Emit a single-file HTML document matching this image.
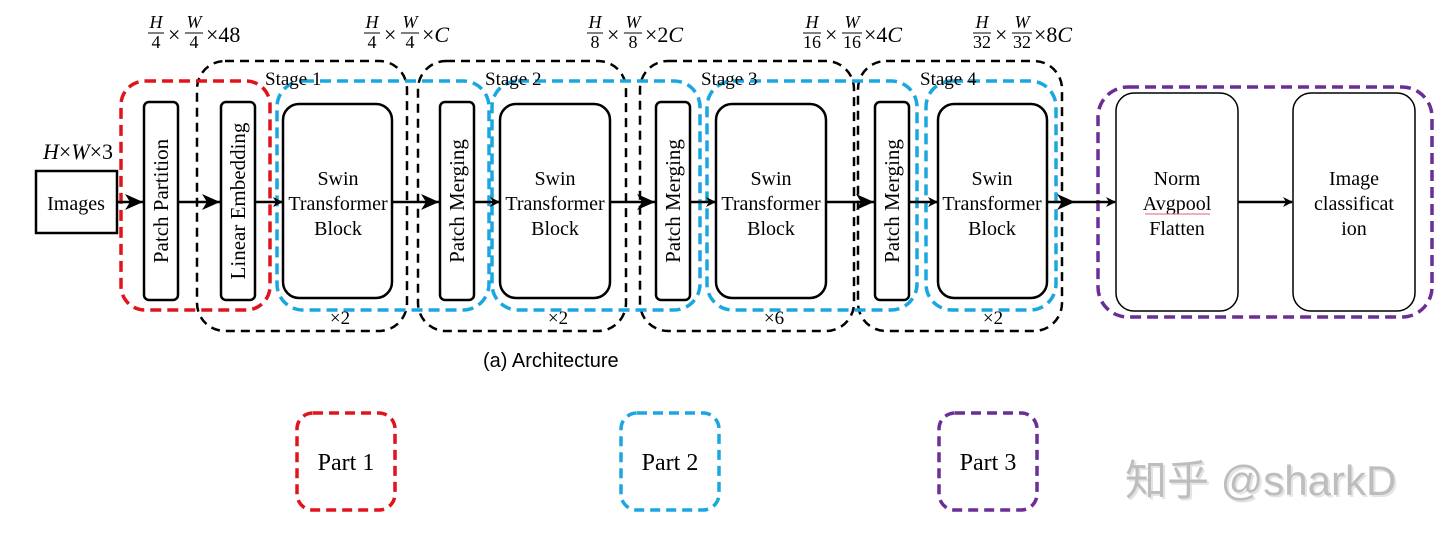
<!DOCTYPE html>
<html><head><meta charset="utf-8"><style>
html,body{margin:0;padding:0;background:#fff;width:1440px;height:537px;overflow:hidden}
svg{display:block}
.s{font-family:"Liberation Serif",serif;fill:#000}
.i{font-style:italic}
</style></head><body>
<svg width="1440" height="537" viewBox="0 0 1440 537" xmlns="http://www.w3.org/2000/svg">
<defs>
<marker id="a" markerWidth="10" markerHeight="10" refX="9" refY="5" orient="auto" markerUnits="userSpaceOnUse"><path d="M0,0 L10,5 L0,10 L3,5 z" fill="#000"/></marker>
<marker id="b" markerWidth="20" markerHeight="16" refX="18" refY="8" orient="auto" markerUnits="userSpaceOnUse"><path d="M0,0 L18,8 L0,16 L5,8 z" fill="#000"/></marker>
</defs>
<g class="s" font-size="18">
<g transform="translate(152,0)"><text x="4" y="28" class="i" text-anchor="middle">H</text><line x1="-4" y1="33" x2="12" y2="33" stroke="#000"/><text x="4" y="48" text-anchor="middle">4</text><text x="16" y="42" font-size="22">×</text><text x="42" y="28" class="i" text-anchor="middle">W</text><line x1="33" y1="33" x2="51" y2="33" stroke="#000"/><text x="42" y="48" text-anchor="middle">4</text><text x="54" y="42" font-size="22">×48</text></g>
<g transform="translate(368,0)"><text x="4" y="28" class="i" text-anchor="middle">H</text><line x1="-4" y1="33" x2="12" y2="33" stroke="#000"/><text x="4" y="48" text-anchor="middle">4</text><text x="16" y="42" font-size="22">×</text><text x="42" y="28" class="i" text-anchor="middle">W</text><line x1="33" y1="33" x2="51" y2="33" stroke="#000"/><text x="42" y="48" text-anchor="middle">4</text><text x="54" y="42" font-size="22">×<tspan class="i">C</tspan></text></g>
<g transform="translate(591,0)"><text x="4" y="28" class="i" text-anchor="middle">H</text><line x1="-4" y1="33" x2="12" y2="33" stroke="#000"/><text x="4" y="48" text-anchor="middle">8</text><text x="16" y="42" font-size="22">×</text><text x="42" y="28" class="i" text-anchor="middle">W</text><line x1="33" y1="33" x2="51" y2="33" stroke="#000"/><text x="42" y="48" text-anchor="middle">8</text><text x="54" y="42" font-size="22">×2<tspan class="i">C</tspan></text></g>
<g transform="translate(806,0)"><text x="6" y="28" class="i" text-anchor="middle">H</text><line x1="-3" y1="33" x2="15" y2="33" stroke="#000"/><text x="6" y="48" text-anchor="middle">16</text><text x="19" y="42" font-size="22">×</text><text x="46" y="28" class="i" text-anchor="middle">W</text><line x1="36" y1="33" x2="56" y2="33" stroke="#000"/><text x="46" y="48" text-anchor="middle">16</text><text x="58" y="42" font-size="22">×4<tspan class="i">C</tspan></text></g>
<g transform="translate(976,0)"><text x="6" y="28" class="i" text-anchor="middle">H</text><line x1="-3" y1="33" x2="15" y2="33" stroke="#000"/><text x="6" y="48" text-anchor="middle">32</text><text x="19" y="42" font-size="22">×</text><text x="46" y="28" class="i" text-anchor="middle">W</text><line x1="36" y1="33" x2="56" y2="33" stroke="#000"/><text x="46" y="48" text-anchor="middle">32</text><text x="58" y="42" font-size="22">×8<tspan class="i">C</tspan></text></g>
</g>
<g fill="none" stroke="#000" stroke-width="2.5" stroke-dasharray="9,6">
<rect x="197" y="61" width="210" height="270" rx="28"/>
<rect x="418" y="61" width="208" height="270" rx="28"/>
<rect x="640" y="61" width="214" height="270" rx="28"/>
<rect x="858" y="61" width="204" height="270" rx="28"/>
</g>
<g fill="none" stroke-width="3.5" stroke-dasharray="11,6">
<rect x="121" y="81" width="149" height="229" rx="24" stroke="#e0141b"/>
<rect x="277" y="81" width="212" height="229" rx="26" stroke="#1aa7e0"/>
<rect x="492" y="81" width="208" height="229" rx="26" stroke="#1aa7e0"/>
<rect x="707" y="81" width="210" height="229" rx="26" stroke="#1aa7e0"/>
<rect x="926" y="81" width="130" height="229" rx="26" stroke="#1aa7e0"/>
<rect x="1098" y="87" width="334" height="230" rx="30" stroke="#6a2e96"/>
</g>
<g class="s" font-size="19">
<text x="265" y="85">Stage 1</text><text x="485" y="85">Stage 2</text><text x="701" y="85">Stage 3</text><text x="920" y="85">Stage 4</text>
<text x="340" y="324" text-anchor="middle">×2</text><text x="558" y="324" text-anchor="middle">×2</text><text x="774" y="324" text-anchor="middle">×6</text><text x="993" y="324" text-anchor="middle">×2</text>
</g>
<g fill="#fff" stroke="#000" stroke-width="2.5">
<rect x="36" y="171" width="81" height="62"/>
<rect x="144" y="102" width="34" height="198" rx="5"/>
<rect x="221" y="102" width="34" height="198" rx="5"/>
<rect x="283" y="104" width="109" height="194" rx="16"/>
<rect x="440" y="102" width="34" height="198" rx="5"/>
<rect x="500" y="104" width="110" height="194" rx="16"/>
<rect x="656" y="102" width="34" height="198" rx="5"/>
<rect x="716" y="104" width="110" height="194" rx="16"/>
<rect x="875" y="102" width="34" height="198" rx="5"/>
<rect x="938" y="104" width="109" height="194" rx="16"/>
</g>
<g fill="#fff" stroke="#000" stroke-width="1.5">
<rect x="1116" y="93" width="122" height="218" rx="18"/>
<rect x="1293" y="93" width="122" height="218" rx="18"/>
</g>
<g stroke="#000" stroke-width="2.5">
<line x1="117" y1="202" x2="143" y2="202" marker-end="url(#b)"/>
<line x1="178" y1="202" x2="220" y2="202" marker-end="url(#b)"/>
<line x1="255" y1="202" x2="282" y2="202" marker-end="url(#a)"/>
<line x1="392" y1="202" x2="439" y2="202" marker-end="url(#b)"/>
<line x1="474" y1="202" x2="499" y2="202" marker-end="url(#a)"/>
<line x1="610" y1="202" x2="655" y2="202" marker-end="url(#b)"/>
<line x1="690" y1="202" x2="715" y2="202" marker-end="url(#a)"/>
<line x1="826" y1="202" x2="874" y2="202" marker-end="url(#b)"/>
<line x1="909" y1="202" x2="937" y2="202" marker-end="url(#a)"/>
<line x1="1047" y1="202" x2="1075" y2="202" marker-end="url(#b)"/>
<line x1="1075" y1="202" x2="1115" y2="202" marker-end="url(#a)"/>
<line x1="1238" y1="202" x2="1292" y2="202" marker-end="url(#a)"/>
</g>
<g class="s" font-size="20" text-anchor="middle">
<text x="78" y="159" class="i" font-size="22">H<tspan font-style="normal">×</tspan>W<tspan font-style="normal">×3</tspan></text>
<text x="76" y="210">Images</text>
<text transform="translate(168,201) rotate(-90)" font-size="21">Patch Partition</text>
<text transform="translate(245,201) rotate(-90)" font-size="21">Linear Embedding</text>
<text transform="translate(464,201) rotate(-90)" font-size="21">Patch Merging</text>
<text transform="translate(680,201) rotate(-90)" font-size="21">Patch Merging</text>
<text transform="translate(899,201) rotate(-90)" font-size="21">Patch Merging</text>
<text x="338" y="185">Swin</text><text x="338" y="210">Transformer</text><text x="338" y="235">Block</text>
<text x="555" y="185">Swin</text><text x="555" y="210">Transformer</text><text x="555" y="235">Block</text>
<text x="771" y="185">Swin</text><text x="771" y="210">Transformer</text><text x="771" y="235">Block</text>
<text x="992" y="185">Swin</text><text x="992" y="210">Transformer</text><text x="992" y="235">Block</text>
<text x="1177" y="185">Norm</text><text x="1177" y="210">Avgpool</text><text x="1177" y="235">Flatten</text>
<text x="1354" y="185">Image</text><text x="1354" y="210">classificat</text><text x="1354" y="235">ion</text>
</g>
<line x1="1145" y1="214" x2="1210" y2="214" stroke="#e06070" stroke-width="1"/>
<text x="483" y="367" font-family="Liberation Sans, sans-serif" font-size="20">(a) Architecture</text>
<g fill="none" stroke-width="3.5" stroke-dasharray="10,6">
<rect x="297" y="413" width="98" height="97" rx="16" stroke="#e0141b"/>
<rect x="621" y="413" width="98" height="97" rx="16" stroke="#1aa7e0"/>
<rect x="939" y="413" width="98" height="97" rx="16" stroke="#6a2e96"/>
</g>
<g class="s" font-size="24" text-anchor="middle">
<text x="346" y="470">Part 1</text><text x="670" y="470">Part 2</text><text x="988" y="470">Part 3</text>
</g>
<text x="1127" y="497" font-family="Liberation Sans, 'Noto Sans CJK SC', sans-serif" font-size="42" fill="#e4e4e4">知乎 @sharkD</text>
<text x="1125" y="495" font-family="Liberation Sans, 'Noto Sans CJK SC', sans-serif" font-size="42" fill="#bdbdbd">知乎 @sharkD</text>
</svg>
</body></html>
